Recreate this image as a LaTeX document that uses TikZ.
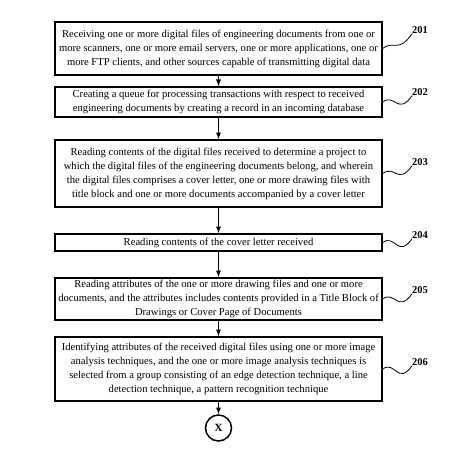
\documentclass[tikz,border=0pt]{standalone}
\usepackage{fontspec}
\setmainfont{Liberation Serif}
\usetikzlibrary{positioning}
\usetikzlibrary{arrows}

\begin{document}
\begin{tikzpicture}[x=1pt,y=-1pt,
	stepbox/.style={draw, line width=1.6pt, minimum width=327pt, inner xsep=1pt, inner ysep=1pt, align=center, font=\fontsize{10.6}{14}\selectfont},
	reflbl/.style={font=\bfseries\fontsize{10.5}{12}\selectfont, inner sep=0pt},
	flow/.style={-latex, line width=1.3pt},
	squig/.style={line width=0.8pt}]

	\useasboundingbox (0,0) rectangle (474,460);

	\def\cx{218.5};

	% process steps
	\node[stepbox, minimum height=53pt] (b201) at (\cx,48.5) {Receiving one or more digital files of engineering documents from one or\\more scanners, one or more email servers, one or more applications, one or\\more FTP clients, and other sources capable of transmitting digital data};
	\node[stepbox, minimum height=30pt] (b202) at (\cx,102) {Creating a queue for processing transactions with respect to received\\engineering documents by creating a record in an incoming database};
	\node[stepbox, minimum height=67pt] (b203) at (\cx,173.5) {Reading contents of the digital files received to determine a project to\\which the digital files of the engineering documents belong, and wherein\\the digital files comprises a cover letter, one or more drawing files with\\title block and one or more documents accompanied by a cover letter};
	\node[stepbox, minimum height=17pt] (b204) at (\cx,242.5) {Reading contents of the cover letter received};
	\node[stepbox, minimum height=42pt] (b205) at (\cx,299) {Reading attributes of the one or more drawing files and one or more\\documents, and the attributes includes contents provided in a Title Block of\\Drawings or Cover Page of Documents};
	\node[stepbox, minimum height=64pt] (b206) at (\cx,369) {Identifying attributes of the received digital files using one or more image\\analysis techniques, and the one or more image analysis techniques is\\selected from a group consisting of an edge detection technique, a line\\detection technique, a pattern recognition technique};
	\node[draw, circle, line width=1.5pt, minimum size=26pt, inner sep=0pt, font=\bfseries\fontsize{11}{12}\selectfont] (cx) at (\cx,428) {X};

	% arrows
	\foreach \a/\b in {b201/b202, b202/b203, b203/b204, b204/b205, b205/b206, b206/cx} {
		\draw[flow] (\a.south) -- (\b.north);
	}

	% reference numerals
	\foreach \n/\y in {201/30, 202/92, 203/162, 204/235, 205/290, 206/362} {
		\node[reflbl, anchor=west] (l\n) at (412,\y) {\n};
		\draw[squig] (b\n.east) .. controls +(12,-9) and +(-14,20) .. (l\n.south west);
	}

\end{tikzpicture}
\end{document}
